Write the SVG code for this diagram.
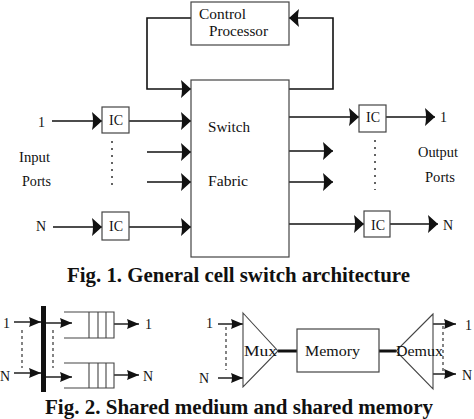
<svg xmlns="http://www.w3.org/2000/svg" width="474" height="419" viewBox="0 0 474 419">
<defs>
<style>
.t{font-family:"Liberation Serif","Times New Roman",serif;font-size:14px;fill:#111}
.cap{font-family:"Liberation Serif","Times New Roman",serif;font-size:20px;font-weight:bold;fill:#111}
.box{fill:#fff;stroke:#444;stroke-width:1.2}
.la{fill:none;stroke:#111;stroke-width:1.6;marker-end:url(#a1)}
.lb{fill:none;stroke:#111;stroke-width:1.4;marker-end:url(#a2)}
.thin{fill:none;stroke:#444;stroke-width:1.1}
.dot{fill:none;stroke:#222;stroke-width:1.4;stroke-dasharray:2 5}
.dot2{fill:none;stroke:#333;stroke-width:1.2;stroke-dasharray:3 3}
</style>
<marker id="a1" markerUnits="userSpaceOnUse" markerWidth="12" markerHeight="20" refX="10" refY="9" orient="auto">
<path d="M0,0 L10,9 L0,18 Q2,9 0,0 z" fill="#111"/>
</marker>
<marker id="a2" markerUnits="userSpaceOnUse" markerWidth="13" markerHeight="12" refX="12" refY="5" orient="auto">
<path d="M0,0 L12,5 L0,10 Q2,5 0,0 z" fill="#111"/>
</marker>
</defs>

<g id="connectors">
<path class="la" d="M191,18 H147 V89 H191"/>
<path class="la" d="M289,89 H333 V18 H289"/>
<path class="la" d="M52,121 H102"/>
<path class="la" d="M129,121 H191"/>
<path class="la" d="M147,152 H191"/>
<path class="la" d="M147,182 H191"/>
<path class="la" d="M53,227 H102"/>
<path class="la" d="M129,227 H191"/>
<path class="la" d="M289,117 H359"/>
<path class="la" d="M386,117 H435"/>
<path class="la" d="M289,151 H333"/>
<path class="la" d="M289,182 H333"/>
<path class="la" d="M289,224 H364"/>
<path class="la" d="M390,224 H438"/>
<path class="dot" d="M112,141 V190"/>
<path class="dot" d="M375,140 V190"/>
<path class="lb" d="M14,322 H41"/>
<path class="lb" d="M14,373 H41"/>
<path class="lb" d="M46,323 H72"/>
<path class="lb" d="M46,377 H72"/>
<path class="lb" d="M114,324 H139"/>
<path class="lb" d="M114,375 H139"/>
<path class="dot2" d="M22,330 V368"/>
<path class="dot2" d="M53,330 V368"/>
<path class="lb" d="M218,324 H243"/>
<path class="lb" d="M218,378 H243"/>
<path class="dot2" d="M226,327 V370"/>
<path fill="none" stroke="#111" stroke-width="3" d="M278,351 H297"/>
<path fill="none" stroke="#111" stroke-width="3" d="M379,351 H396"/>
<path class="lb" d="M433,324 H456"/>
<path class="lb" d="M433,374 H456"/>
<path class="dot2" d="M443,326 V372"/>
</g>

<g id="control-processor">
<rect class="box" x="191" y="2" width="98" height="43"/>
<text class="t" x="199" y="19" textLength="47" lengthAdjust="spacingAndGlyphs">Control</text>
<text class="t" x="209" y="36" textLength="59" lengthAdjust="spacingAndGlyphs">Processor</text>
</g>

<g id="switch-fabric">
<rect class="box" x="191" y="80" width="98" height="177"/>
<text class="t" x="208" y="132" textLength="42" lengthAdjust="spacingAndGlyphs">Switch</text>
<text class="t" x="208" y="186" textLength="40" lengthAdjust="spacingAndGlyphs">Fabric</text>
</g>

<g id="ic-in-1">
<rect class="box" x="102" y="107" width="27" height="26"/>
<text class="t" x="109" y="125">IC</text>
</g>
<g id="ic-in-n">
<rect class="box" x="102" y="212" width="27" height="28"/>
<text class="t" x="109" y="231">IC</text>
</g>
<g id="ic-out-1">
<rect class="box" x="359" y="105" width="27" height="27"/>
<text class="t" x="366" y="122">IC</text>
</g>
<g id="ic-out-n">
<rect class="box" x="364" y="211" width="26" height="26"/>
<text class="t" x="371" y="230">IC</text>
</g>

<g id="labels-fig1">
<text class="t" x="38" y="127">1</text>
<text class="t" x="36" y="231">N</text>
<text class="t" x="19" y="162" textLength="31" lengthAdjust="spacingAndGlyphs">Input</text>
<text class="t" x="22" y="186" textLength="29" lengthAdjust="spacingAndGlyphs">Ports</text>
<text class="t" x="418" y="157" textLength="40" lengthAdjust="spacingAndGlyphs">Output</text>
<text class="t" x="425" y="182" textLength="30" lengthAdjust="spacingAndGlyphs">Ports</text>
<text class="t" x="440" y="122">1</text>
<text class="t" x="443" y="230">N</text>
</g>

<text class="cap" x="67" y="282" textLength="343" lengthAdjust="spacingAndGlyphs">Fig. 1. General cell switch architecture</text>

<g id="shared-medium">
<rect x="41" y="306" width="5" height="86" fill="#111"/>
<path class="thin" d="M64,312 H114 V338 H64 M89,312 V338 M98,312 V338 M106,312 V338"/>
<path class="thin" d="M64,363 H114 V388 H64 M89,363 V388 M98,363 V388 M106,363 V388"/>
<text class="t" x="3" y="328" font-size="15">1</text>
<text class="t" x="0" y="381" font-size="15">N</text>
<text class="t" x="145" y="329" font-size="15">1</text>
<text class="t" x="143" y="381" font-size="15">N</text>
</g>

<g id="mux">
<path class="thin" stroke-width="1.3" d="M243,313 L278,351 L243,387 Z"/>
<text class="t" x="244" y="356" textLength="33" lengthAdjust="spacingAndGlyphs">Mux</text>
<text class="t" x="206" y="328" font-size="15">1</text>
<text class="t" x="199" y="383" font-size="15">N</text>
</g>
<g id="memory">
<rect class="box" x="297" y="329" width="82" height="43"/>
<text class="t" x="305" y="356" textLength="55" lengthAdjust="spacingAndGlyphs">Memory</text>
</g>
<g id="demux">
<path class="thin" stroke-width="1.3" d="M433,314 L396,351 L433,389 Z"/>
<text class="t" x="396" y="356" textLength="47" lengthAdjust="spacingAndGlyphs">Demux</text>
<text class="t" x="465" y="330" font-size="15">1</text>
<text class="t" x="462" y="380" font-size="15">N</text>
</g>

<text class="cap" x="45" y="414" font-size="18" textLength="388" lengthAdjust="spacingAndGlyphs">Fig. 2. Shared medium and shared memory</text>
</svg>
